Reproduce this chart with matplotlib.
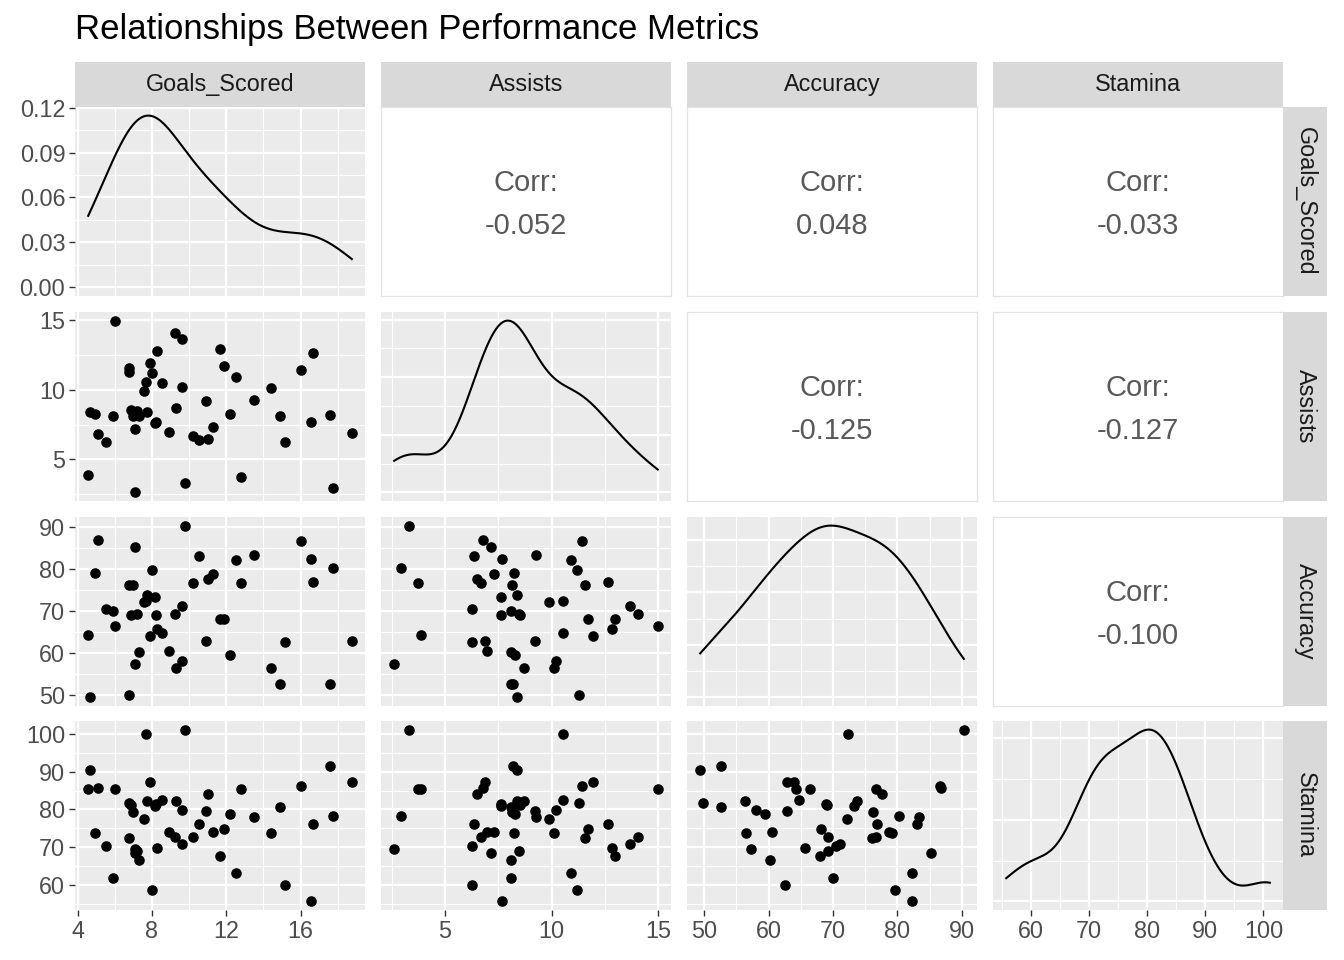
import numpy as np
import matplotlib
matplotlib.use("Agg")
import matplotlib.pyplot as plt
from matplotlib.ticker import MultipleLocator, MaxNLocator, AutoMinorLocator, NullLocator

plt.rcParams["font.family"] = ["Liberation Sans", "DejaVu Sans"]

# 50 players
goals = [4.57, 4.66, 4.93, 5.12, 5.52, 5.93, 6.01, 6.78, 6.78, 6.85,
         6.98, 7.07, 7.10, 7.19, 7.28, 7.60, 7.67, 7.74, 7.92, 8.01,
         8.15, 8.20, 8.28, 8.53, 8.90, 9.26, 9.28, 9.60, 9.60, 9.79,
         10.19, 10.51, 10.92, 11.01, 11.27, 11.68, 11.90, 12.20, 12.50, 12.79,
         13.50, 14.39, 14.89, 15.18, 16.00, 16.58, 16.67, 17.58, 17.76, 18.76]
assists = [3.86, 8.40, 8.26, 6.79, 6.26, 8.10, 14.98, 11.29, 11.57, 8.52,
           8.15, 7.17, 2.62, 8.45, 8.12, 9.90, 10.55, 8.38, 11.93, 11.21,
           7.62, 7.65, 12.81, 10.52, 6.95, 14.07, 8.69, 13.67, 10.21, 3.33,
           6.67, 6.38, 9.21, 6.48, 7.29, 12.95, 11.71, 8.29, 10.93, 3.74,
           9.29, 10.12, 8.10, 6.26, 11.43, 7.67, 12.64, 8.21, 2.93, 6.88]
accuracy = [64.3, 49.4, 79.1, 86.8, 70.5, 70.0, 66.4, 49.9, 76.1, 69.0,
            76.2, 85.2, 57.3, 69.3, 60.2, 72.2, 72.4, 73.8, 64.0, 79.7,
            73.3, 68.9, 65.6, 64.7, 60.5, 69.2, 56.4, 71.1, 58.1, 90.3,
            76.7, 83.1, 62.8, 77.6, 78.7, 68.0, 68.1, 59.5, 82.2, 76.6,
            83.3, 56.5, 52.6, 62.5, 86.6, 82.3, 76.9, 52.6, 80.2, 62.8]
stamina = [85.4, 90.4, 73.9, 85.7, 70.4, 61.8, 85.4, 81.8, 72.4, 81.2,
           79.3, 68.4, 69.5, 69.0, 66.7, 77.6, 100.0, 82.3, 87.2, 58.6,
           81.0, 81.4, 69.9, 82.6, 74.1, 72.8, 82.2, 70.9, 79.8, 101.1,
           72.7, 76.1, 79.7, 84.0, 74.0, 67.8, 74.9, 78.9, 63.2, 85.4,
           77.9, 73.8, 80.6, 60.1, 86.1, 55.7, 76.1, 91.6, 78.2, 87.2]

var_names = ["Goals_Scored", "Assists", "Accuracy", "Stamina"]
var_ticks = [[4, 8, 12, 16], [5, 10, 15], [50, 60, 70, 80, 90], [60, 70, 80, 90, 100]]
var_minor = [2, 2.5, 5, 5]
goals_density_ticks = [0.00, 0.03, 0.06, 0.09, 0.12]
corr_labels = {(0, 1): "-0.052", (0, 2): "0.048", (0, 3): "-0.033",
               (1, 2): "-0.125", (1, 3): "-0.127", (2, 3): "-0.100"}

data = [np.array(goals), np.array(assists), np.array(accuracy), np.array(stamina)]


def kde(x):
    # gaussian kernel with R's bw.nrd0, on the data range like stat_density
    n = len(x)
    iqr = np.subtract(*np.percentile(x, [75, 25]))
    bw = 0.9 * min(np.std(x, ddof=1), iqr / 1.34) * n ** -0.2
    grid = np.linspace(x.min(), x.max(), 512)
    d = np.exp(-0.5 * ((grid[:, None] - x[None, :]) / bw) ** 2).sum(axis=1)
    return grid, d / (n * bw * np.sqrt(2 * np.pi))


def lims(x):
    lo, hi = x.min(), x.max()
    pad = (hi - lo) * 0.05
    return lo - pad, hi + pad


W, H = 1344, 960
col_x = [75, 381, 687, 993]
row_y = [107, 312, 517, 721]
pw, ph = 290, 189

GREY_PANEL = "#EBEBEB"
TXT = "#4D4D4D"
TS = 16.8

fig = plt.figure(figsize=(W / 100, H / 100), dpi=100)
fig.patch.set_facecolor("white")

for r in range(4):
    for c in range(4):
        ax = fig.add_axes([col_x[c] / W, 1 - (row_y[r] + ph) / H, pw / W, ph / H])
        xs = data[c]

        if c > r:
            # upper triangle: correlation text
            ax.set_facecolor("white")
            for s in ax.spines.values():
                s.set_color("#E3E3E3")
                s.set_linewidth(0.9)
            ax.xaxis.set_major_locator(NullLocator())
            ax.yaxis.set_major_locator(NullLocator())
            ax.text(0.5, 0.6, "Corr:", transform=ax.transAxes, ha="center", va="center",
                    fontsize=21, color="#595959")
            ax.text(0.5, 0.37, corr_labels[(r, c)], transform=ax.transAxes,
                    ha="center", va="center", fontsize=21, color="#595959")
            continue

        ax.set_xlim(*lims(xs))
        ax.xaxis.set_major_locator(MultipleLocator(var_ticks[c][1] - var_ticks[c][0]))
        ax.xaxis.set_minor_locator(MultipleLocator(var_minor[c]))
        ax.set_facecolor(GREY_PANEL)
        for s in ax.spines.values():
            s.set_visible(False)
        ax.set_axisbelow(True)

        if r == c:
            gx, gy = kde(xs)
            ax.plot(gx, gy, color="black", lw=1.5)
            ymax = gy.max()
            ax.set_ylim(-0.05 * ymax, ymax * 1.05)
            if r == 0:
                ax.set_yticks(goals_density_ticks)
                ax.yaxis.set_minor_locator(MultipleLocator(0.015))
            else:
                ax.yaxis.set_major_locator(MaxNLocator(nbins=4, steps=[1, 2, 2.5, 5, 10]))
                ax.yaxis.set_minor_locator(AutoMinorLocator(2))
        else:
            ys = data[r]
            ax.scatter(xs, ys, s=58, color="black", linewidths=0, zorder=3)
            ax.set_ylim(*lims(ys))
            ax.yaxis.set_major_locator(MultipleLocator(var_ticks[r][1] - var_ticks[r][0]))
            ax.yaxis.set_minor_locator(MultipleLocator(var_minor[r]))

        ax.grid(which="major", color="white", lw=1.6)
        ax.grid(which="minor", color="white", lw=0.8)
        ax.tick_params(which="minor", length=0)
        ax.tick_params(which="major", length=4, width=1.0, color="#333333",
                       labelcolor=TXT, labelsize=TS, pad=3)
        if r != 3:
            ax.tick_params(axis="x", which="major", length=0, labelbottom=False)
        if c != 0:
            ax.tick_params(axis="y", which="major", length=0, labelleft=False)
        if r == 0 and c == 0:
            ax.yaxis.set_major_formatter(plt.FuncFormatter(lambda v, p: f"{v:.2f}"))

    # right-hand strip
    sax = fig.add_axes([(col_x[3] + pw) / W, 1 - (row_y[r] + ph) / H, 44 / W, ph / H])
    sax.set_facecolor("#D9D9D9")
    sax.set_xticks([])
    sax.set_yticks([])
    for s in sax.spines.values():
        s.set_visible(False)
    sax.text(0.5, 0.5, var_names[r], rotation=-90, ha="center", va="center",
             fontsize=TS, color="#1A1A1A", transform=sax.transAxes)

# top strips
for c in range(4):
    sax = fig.add_axes([col_x[c] / W, 1 - 107 / H, pw / W, 45 / H])
    sax.set_facecolor("#D9D9D9")
    sax.set_xticks([])
    sax.set_yticks([])
    for s in sax.spines.values():
        s.set_visible(False)
    sax.text(0.5, 0.5, var_names[c], ha="center", va="center",
             fontsize=TS, color="#1A1A1A", transform=sax.transAxes)

fig.text(75 / W, 1 - 29 / H, "Relationships Between Performance Metrics",
         ha="left", va="center", fontsize=25, color="black")

fig.savefig("out.png", dpi=100)
